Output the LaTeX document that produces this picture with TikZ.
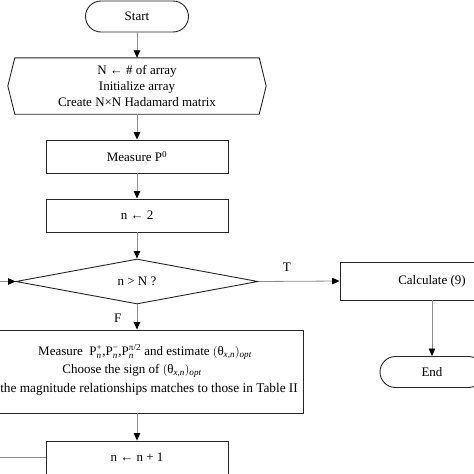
\documentclass[tikz,border=0pt]{standalone}
\usepackage{amsmath}
\usepackage{fontspec}
\setmainfont{Liberation Serif}
\usetikzlibrary{arrows.meta,shapes.misc,shapes.geometric}
\newcommand\Pss[1]{$\text{P}_{\textit{n}}^{\text{#1}}$}
\begin{document}
\begin{tikzpicture}[x=1pt,y=-1pt, font=\fontsize{13}{16}\selectfont,
 outl/.style={draw=black!85, line width=0.9pt},
 box/.style={outl, minimum width=182pt, minimum height=33pt, inner sep=0pt},
 term/.style={outl, rounded rectangle, minimum width=103pt, minimum height=31pt, inner sep=0pt},
 conn/.style={draw=black!45, line width=0.8pt, -{Triangle[width=6.5pt,length=7.5pt,color=black]}},
 lbl/.style={inner sep=0pt},
]
\useasboundingbox (0,0) rectangle (474,474);
\clip (0,0) rectangle (474,474);
\fill[white] (0,0) rectangle (474,474);
\node[term] (start) at (137,16.5) {Start};
\node[minimum width=258pt, minimum height=56pt, inner sep=0pt, align=center] (init) at (137,86) {N ← \# of array\\Initialize array\\Create N×N Hadamard matrix};
\draw[outl] (init.west) -- ([xshift=7pt]init.north west) -- ([xshift=-7pt]init.north east) -- (init.east) -- ([xshift=-7pt]init.south east) -- ([xshift=7pt]init.south west) -- cycle;
\node[box] (p0) at (137,156.5) {Measure P\textsuperscript{0}};
\node[box] (n2) at (137,215.5) {n ← 2};
\node[outl, diamond, aspect=5.4, minimum width=242pt, minimum height=45pt, inner sep=0pt] (dec) at (137,281.5) {n > N ?};
\node[box, minimum width=184pt, minimum height=38pt] (calc) at (432,281) {Calculate (9)};
\node[term, minimum width=104pt] (end) at (432,372) {End};
\node[box, minimum width=332pt, minimum height=83pt] (meas) at (137,371.5) {};
\node[lbl] (m1) at (145,352) {Measure\ \ \Pss{+},\Pss{−},\Pss{π/2} and estimate $(\text{θ}_{\textit{x,n}})_{\textit{opt}}$};
\node[lbl] (m2) at (132,371) {Choose the sign of\ $(\text{θ}_{\textit{x,n}})_{\textit{opt}}$};
\node[lbl, anchor=east, font=\fontsize{13.3}{16}\selectfont] (m3) at (298,389) {the magnitude relationships matches to those in Table II};
\node[box] (inc) at (137,457.5) {n ← n + 1};
\coordinate (loopa) at (-10,457.5);
\coordinate (loopb) at (-10,281.5);
\draw[conn] (start.south) -- (init.north);
\draw[conn] (init.south) -- (p0.north);
\draw[conn] (p0.south) -- (n2.north);
\draw[conn] (n2.south) -- (dec.north);
\draw[conn] (dec.east) -- (calc.west) node[pos=0.35, above=6pt] (tl) {T};
\draw[conn] (dec.south) -- (meas.north) node[pos=0.55, left=12pt] (fl) {F};
\draw[conn] (calc.south) -- (end.north);
\draw[conn] (meas.south) -- (inc.north);
\draw[conn] (inc.west) -- (loopa) -- (loopb) -- (dec.west);
\end{tikzpicture}
\end{document}
